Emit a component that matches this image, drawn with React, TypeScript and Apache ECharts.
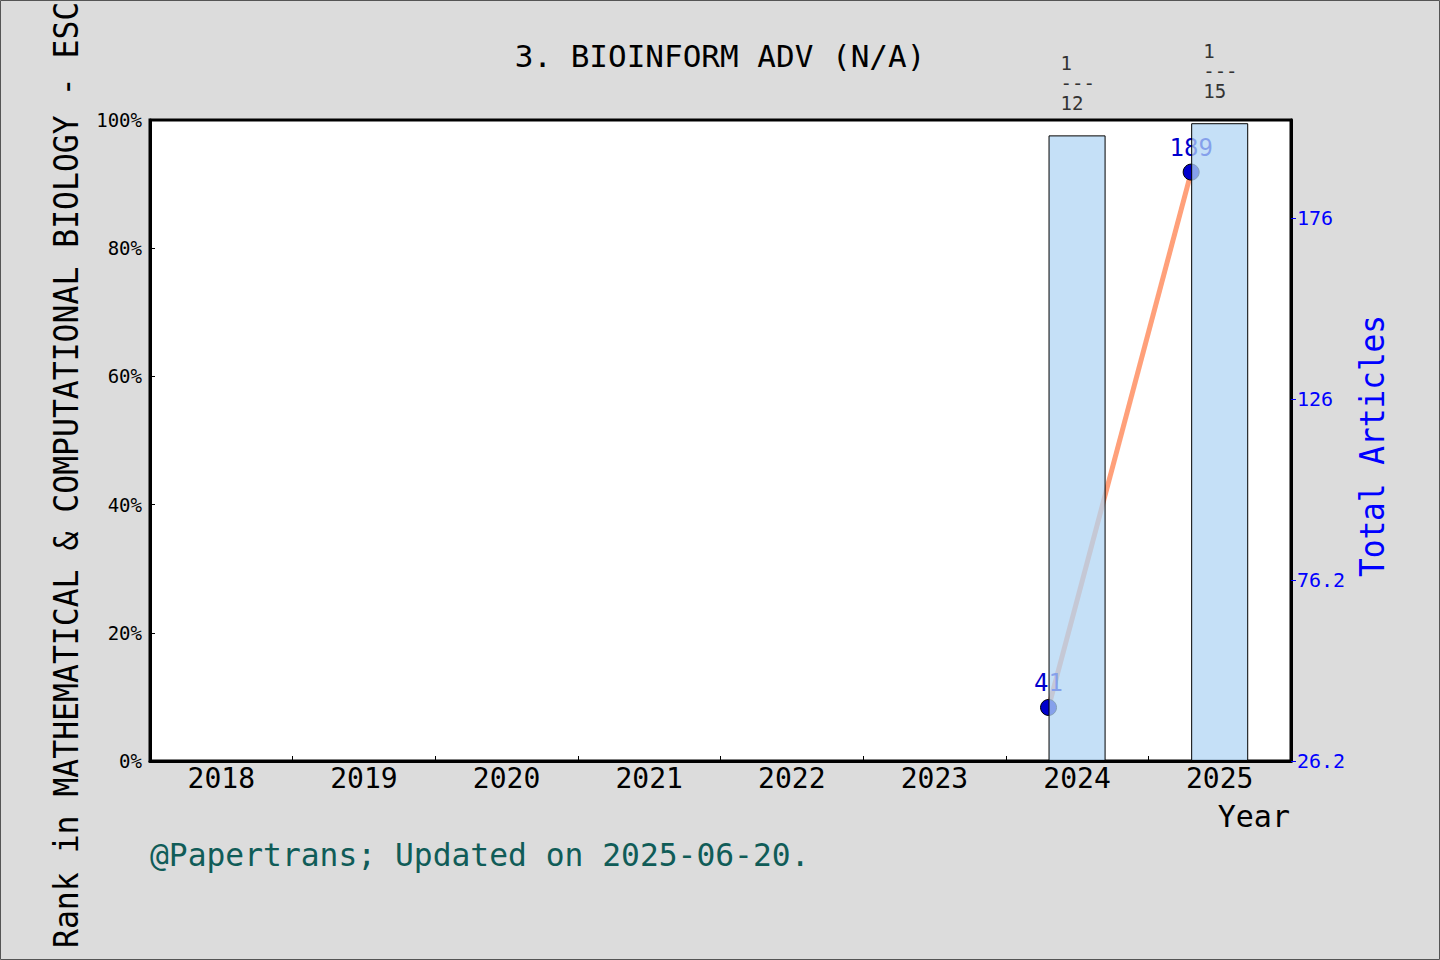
import React, { useEffect, useRef } from 'react';
import * as echarts from 'echarts';

const years = ['2018', '2019', '2020', '2021', '2022', '2023', '2024', '2025'];
const barValues = [null, null, null, null, null, null, 97.6, 99.5];
const ranks = [null, null, null, null, null, null, 1, 1];
const categorySizes = [null, null, null, null, null, null, 12, 15];
const articles = [null, null, null, null, null, null, 41, 189];
const rightMin = 26.2;
const rightMax = 203.4;
const rightInterval = 50;

const MONO = '"DejaVu Sans Mono", monospace';
const BAR_RATIO = 0.4;

export default function App() {
  const ref = useRef<HTMLDivElement>(null);
  useEffect(() => {
    if (!ref.current) return;
    const chart = echarts.init(ref.current, null, { renderer: 'svg' });
    const lineData = articles
      .map((v, i) => (v == null ? null : [i - BAR_RATIO / 2, v]))
      .filter((d) => d != null);
    chart.setOption({
      animation: false,
      backgroundColor: '#dcdcdc',
      grid: {
        left: 150,
        right: 149,
        top: 120,
        bottom: 199,
        show: true,
        backgroundColor: '#ffffff',
        borderColor: '#000',
        borderWidth: 3,
        containLabel: false,
      },
      xAxis: [
        {
          type: 'category',
          data: years,
          boundaryGap: true,
          axisLine: { show: true, onZero: false, lineStyle: { color: '#000', width: 3 } },
          axisTick: { show: true, inside: true, length: 5, lineStyle: { color: '#000', width: 1 } },
          axisLabel: { color: '#000', fontSize: 28, fontFamily: MONO, margin: 3 },
          splitLine: { show: false },
        },
        {
          type: 'value',
          min: -0.5,
          max: years.length - 0.5,
          show: false,
          axisLine: { onZero: false },
        },
      ],
      yAxis: [
        {
          type: 'value',
          min: 0,
          max: 100,
          interval: 20,
          position: 'left',
          axisLine: { show: true, onZero: false, lineStyle: { color: '#000', width: 3 } },
          axisTick: { show: true, inside: true, length: 5, lineStyle: { color: '#000', width: 1 } },
          axisLabel: { color: '#000', fontSize: 19, fontFamily: MONO, margin: 8, formatter: '{value}%' },
          splitLine: { show: false },
        },
        {
          type: 'value',
          min: rightMin,
          max: rightMax,
          interval: rightInterval,
          position: 'right',
          axisLine: { show: true, onZero: false, lineStyle: { color: '#000', width: 3 } },
          axisTick: { show: true, inside: false, length: 5, lineStyle: { color: '#0000ff', width: 1 } },
          axisLabel: {
            color: '#0000ff',
            fontSize: 20,
            fontFamily: MONO,
            margin: 6,
            formatter: (v: number) => String(Number(v.toPrecision(3))),
            showMaxLabel: false,
          },
          splitLine: { show: false },
        },
      ],
      series: [
        {
          type: 'line',
          xAxisIndex: 1,
          yAxisIndex: 1,
          z: 2,
          data: lineData,
          symbol: 'circle',
          symbolSize: 16,
          lineStyle: { color: '#ffa07a', width: 5 },
          itemStyle: { color: '#0000cd', borderColor: '#000', borderWidth: 1 },
          label: {
            show: true,
            position: 'top',
            distance: 4,
            color: '#0000cd',
            fontSize: 24,
            fontFamily: MONO,
            formatter: (p: any) => String(p.value[1]),
          },
        },
        {
          type: 'bar',
          xAxisIndex: 0,
          yAxisIndex: 0,
          z: 3,
          data: barValues,
          barWidth: BAR_RATIO * 100 + '%',
          itemStyle: { color: 'rgba(178,214,244,0.75)', borderColor: '#000', borderWidth: 1 },
          label: {
            show: true,
            position: 'top',
            distance: 22,
            formatter: (p: any) =>
              `{a|${ranks[p.dataIndex]}}\n{a|---}\n{a|${categorySizes[p.dataIndex]}}`,
            rich: {
              a: { width: 33, align: 'left', fontSize: 19, lineHeight: 20, color: '#333', fontFamily: MONO },
            },
          },
        },
      ],
      graphic: [
        {
          type: 'rect',
          shape: { x: 0.5, y: 0.5, width: 1439, height: 959 },
          style: { fill: 'none', stroke: '#555', lineWidth: 1 },
          silent: true,
          z: 100,
        },
        {
          type: 'text',
          x: 720,
          y: 56,
          style: { text: '3. BIOINFORM ADV (N/A)', font: `31px ${MONO}`, fill: '#000', textAlign: 'center', textVerticalAlign: 'middle', align: 'center', verticalAlign: 'middle' },
        },
        {
          type: 'text',
          x: 67,
          y: 948,
          rotation: Math.PI / 2,
          scaleX: 0.925,
          style: { text: 'Rank in MATHEMATICAL & COMPUTATIONAL BIOLOGY - ESC', font: `34px ${MONO}`, fill: '#000', textAlign: 'left', textVerticalAlign: 'middle', align: 'left', verticalAlign: 'middle' },
        },
        {
          type: 'text',
          x: 1373,
          y: 446,
          rotation: Math.PI / 2,
          scaleX: 0.915,
          style: { text: 'Total Articles', font: `34px ${MONO}`, fill: '#0000ff', textAlign: 'center', textVerticalAlign: 'middle', align: 'center', verticalAlign: 'middle' },
        },
        {
          type: 'text',
          x: 1290,
          y: 816,
          style: { text: 'Year', font: `30px ${MONO}`, fill: '#000', textAlign: 'right', textVerticalAlign: 'middle', align: 'right', verticalAlign: 'middle' },
        },
        {
          type: 'text',
          x: 150,
          y: 855,
          style: { text: '@Papertrans; Updated on 2025-06-20.', font: `31.3px ${MONO}`, fill: '#105c58', textAlign: 'left', textVerticalAlign: 'middle', align: 'left', verticalAlign: 'middle' },
        },
      ],
    });
    return () => chart.dispose();
  }, []);
  return <div ref={ref} style={{ position: 'fixed', left: 0, top: 0, width: 1440, height: 960 }} />;
}
